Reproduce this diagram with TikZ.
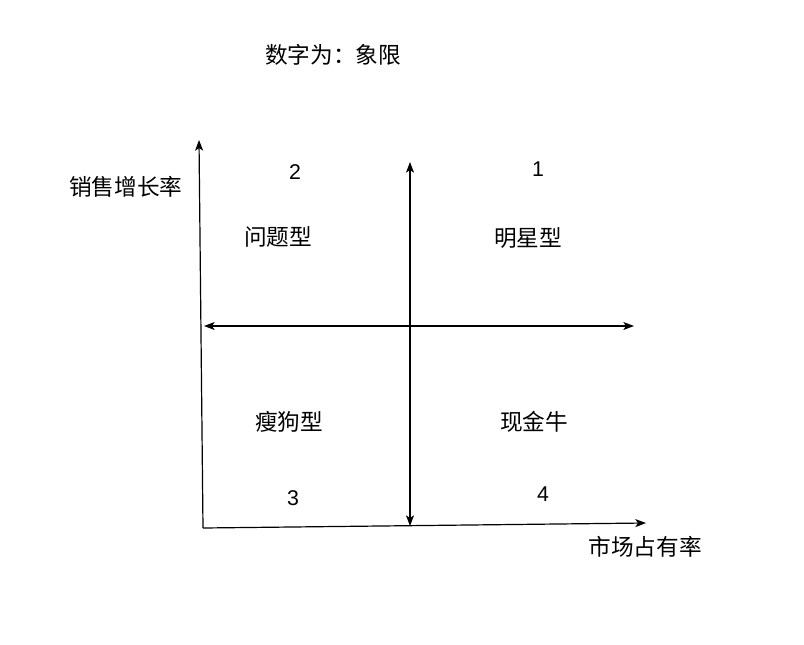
\documentclass[tikz,border=0pt]{standalone}
\usepackage{fontspec}
\setmainfont{Liberation Sans}
\newfontfamily\cjk{Noto Sans CJK SC}
\usepackage{tikz}
\usetikzlibrary{arrows.meta, positioning}

\begin{document}
\begin{tikzpicture}[
  x=0.75pt, y=-0.75pt,
  font=\fontsize{16}{19}\selectfont,
  lbl/.style={inner sep=0pt, font=\fontsize{17}{20}\selectfont\cjk},
  num/.style={inner sep=0pt},
  arr/.style={-{Stealth[length=8pt, width=6pt, inset=2pt]}, line width=0.9pt},
  arr2/.style={{Stealth[length=8pt, width=6pt, inset=2pt]}-{Stealth[length=8pt, width=6pt, inset=2pt]}, line width=0.9pt},
]
\useasboundingbox (0,0) rectangle (804,644);

\node[lbl] (title) at (333,55) {数字为：象限};

% axes
\coordinate (origin) at (203,528);
\coordinate (ytop) at (199,140);
\coordinate (xend) at (646,523);
\draw[arr] (origin) -- (ytop);
\draw[arr] (origin) -- (xend);

\node[lbl] (ylabel) at (126,187) {销售增长率};
\node[lbl] (xlabel) at (645,547) {市场占有率};

% quadrant dividers
\coordinate (vtop) at (410,162);
\coordinate (vbot) at (410,526);
\coordinate (hleft) at (204,326);
\coordinate (hright) at (634,326);
\draw[arr2] (vbot) -- (vtop);
\draw[arr2] (hleft) -- (hright);

% quadrants
\node[num] (q2) at (295,172) {2};
\node[num] (q1) at (538,169) {1};
\node[lbl] (wenti) at (278,237) {问题型};
\node[lbl] (mingxing) at (528,238) {明星型};
\node[lbl] (shougou) at (289,422) {瘦狗型};
\node[lbl] (xianjin) at (534,422) {现金牛};
\node[num] (q3) at (293,498) {3};
\node[num] (q4) at (543,494) {4};

\end{tikzpicture}
\end{document}
